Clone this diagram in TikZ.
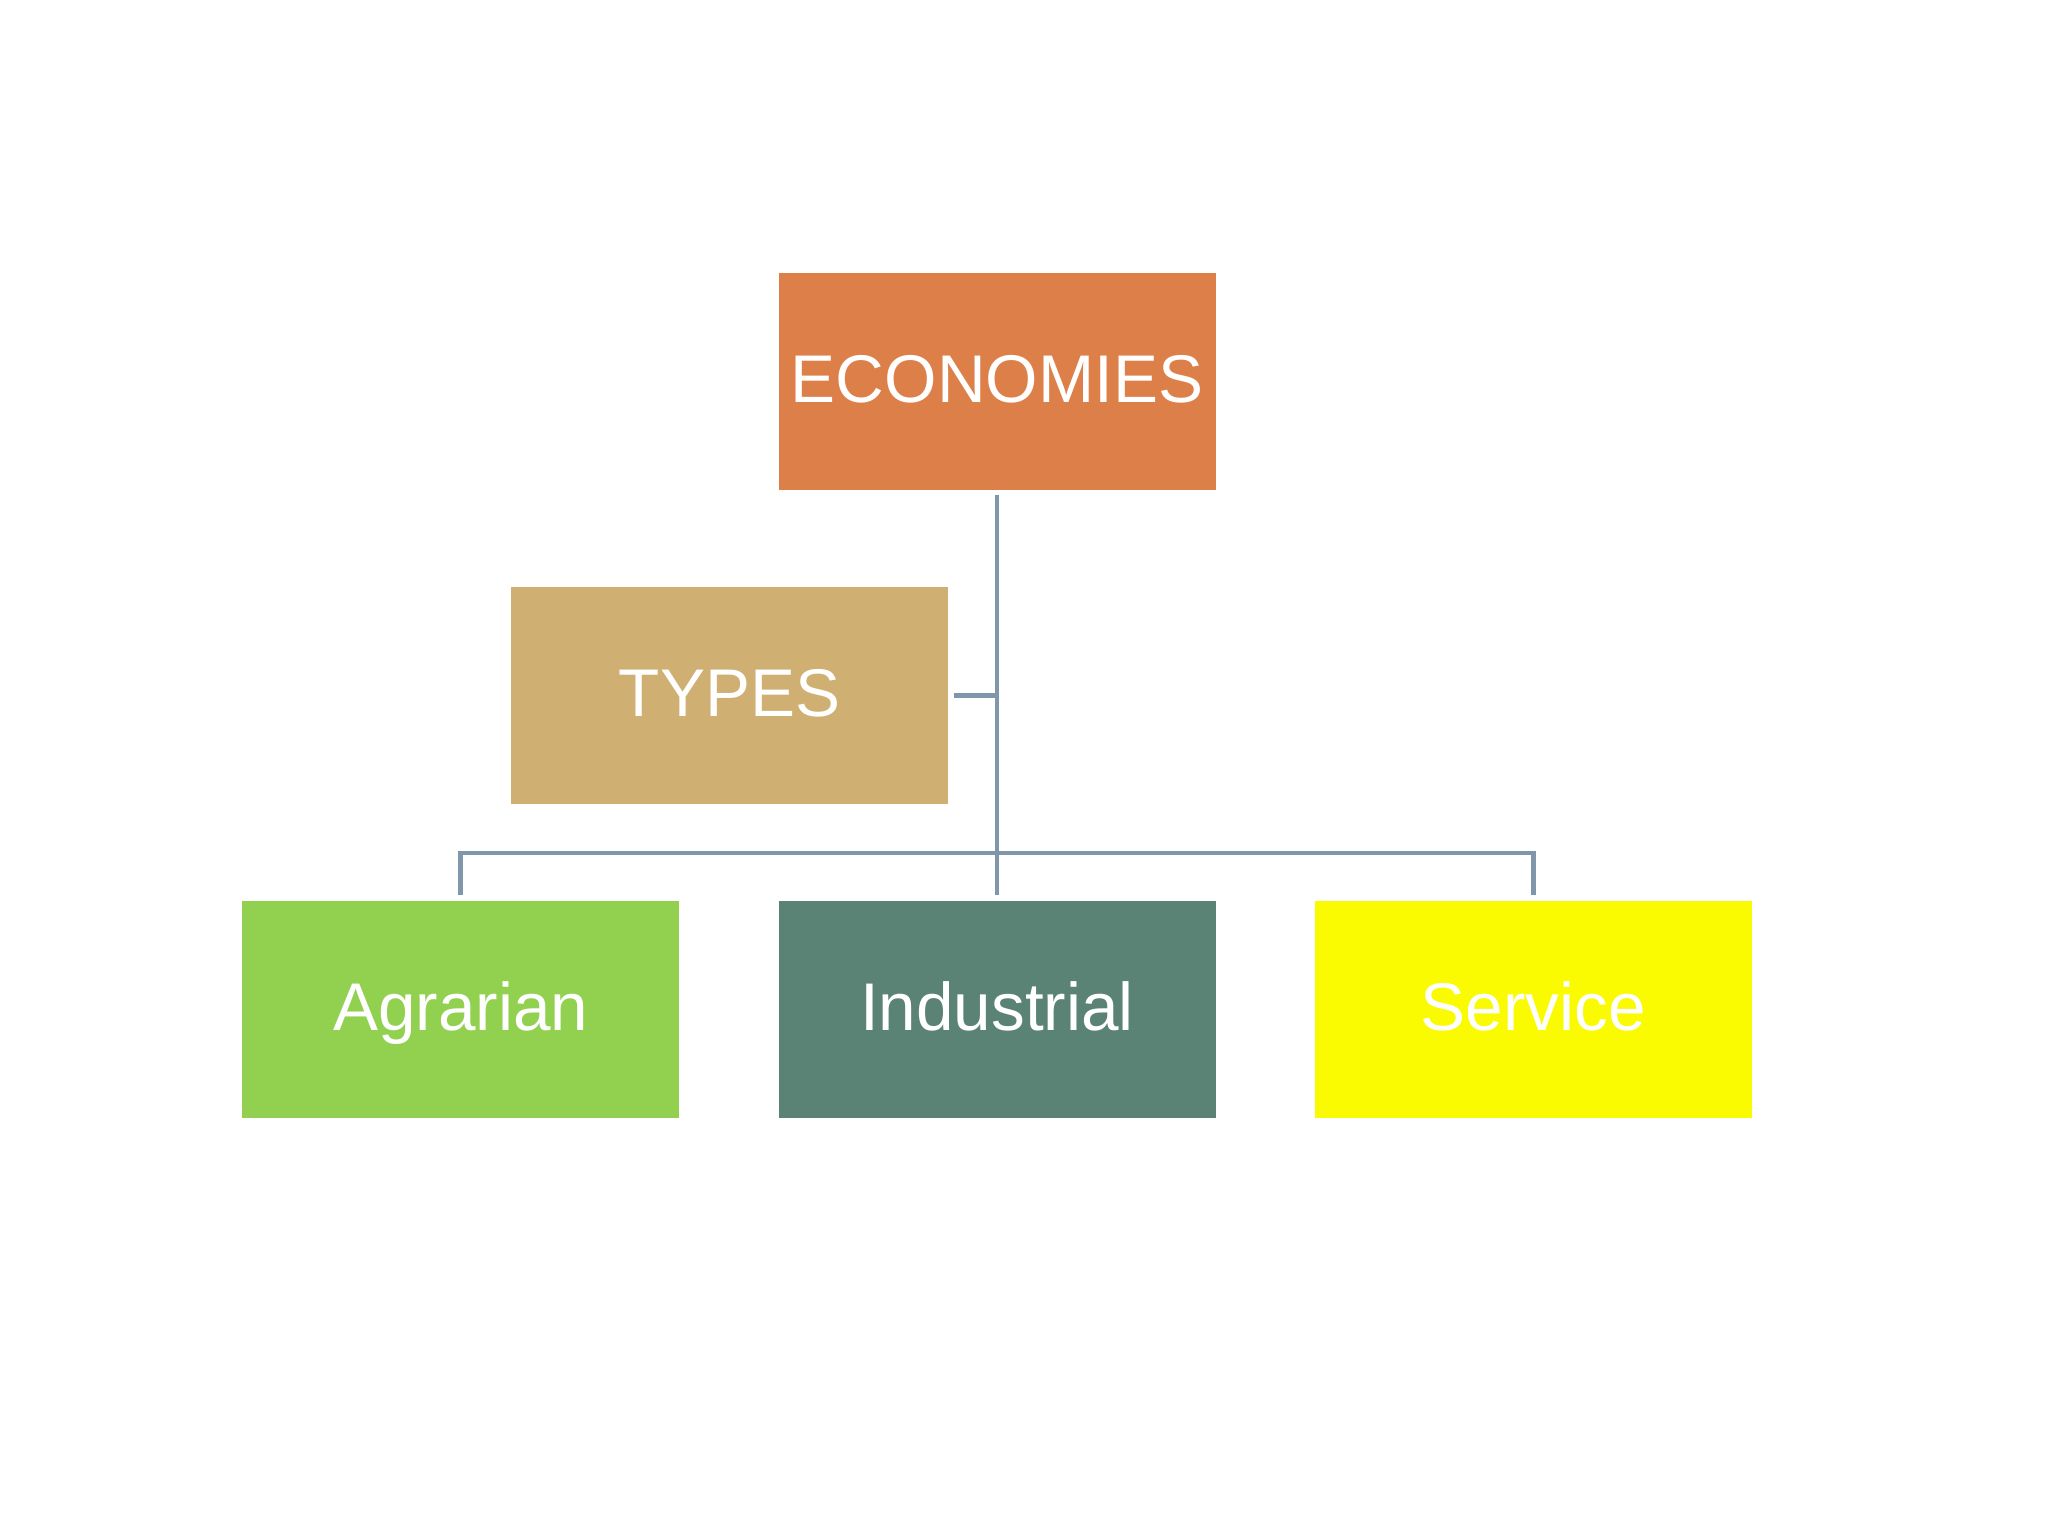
\documentclass[tikz,border=0pt]{standalone}
\usepackage{fontspec}
\setmainfont{Liberation Sans}
\usepackage{xcolor}
\usepackage{tikz}
\usetikzlibrary{positioning}
\definecolor{econcolor}{RGB}{221, 127, 72}
\definecolor{typecolor}{RGB}{207, 175, 114}
\definecolor{agrcolor}{RGB}{146, 208, 80}
\definecolor{indcolor}{RGB}{90, 130, 117}
\definecolor{servcolor}{RGB}{250, 250, 0}
\definecolor{linkcolor}{RGB}{127, 150, 171}
\tikzset{
    box/.style={rectangle, minimum width=4.37cm, minimum height=2.17cm, inner sep=0pt, text=white, font=\fontsize{19.2}{23}\selectfont, text height=13.75pt, text depth=1.9pt},
    econ box/.style={box, fill=econcolor},
    type box/.style={box, fill=typecolor},
    agr box/.style={box, fill=agrcolor},
    ind box/.style={box, fill=indcolor},
    serv box/.style={box, fill=servcolor},
    link/.style={line width=1.4pt, linkcolor}
}

\begin{document}
\begin{tikzpicture}
    % Page frame
    \fill[white] (0,0) rectangle (20.48,15.36);

    % Top and middle boxes
    \node[econ box] (econ) at (9.97,11.545) {ECONOMIES};
    \node[type box] (types) at (7.295,8.405) {TYPES};

    % Bottom row
    \node[ind box] (ind) at (9.97,5.265) {Industrial};
    \node[agr box, left=0.98cm of ind] (agr) {Agrarian};
    \node[serv box, right=0.98cm of ind] (serv) {Service};

    % Connectors
    \coordinate (bus) at (9.97,6.83);
    \draw[link, shorten <=0.04cm, shorten >=0.05cm] (econ.south) -- (ind.north);
    \draw[link, shorten <=0.05cm] (types.east) -- (types.east -| econ.south);
    \draw[link, shorten <=0.05cm, shorten >=0.05cm] (agr.north) |- (bus) -| (serv.north);
\end{tikzpicture}
\end{document}
